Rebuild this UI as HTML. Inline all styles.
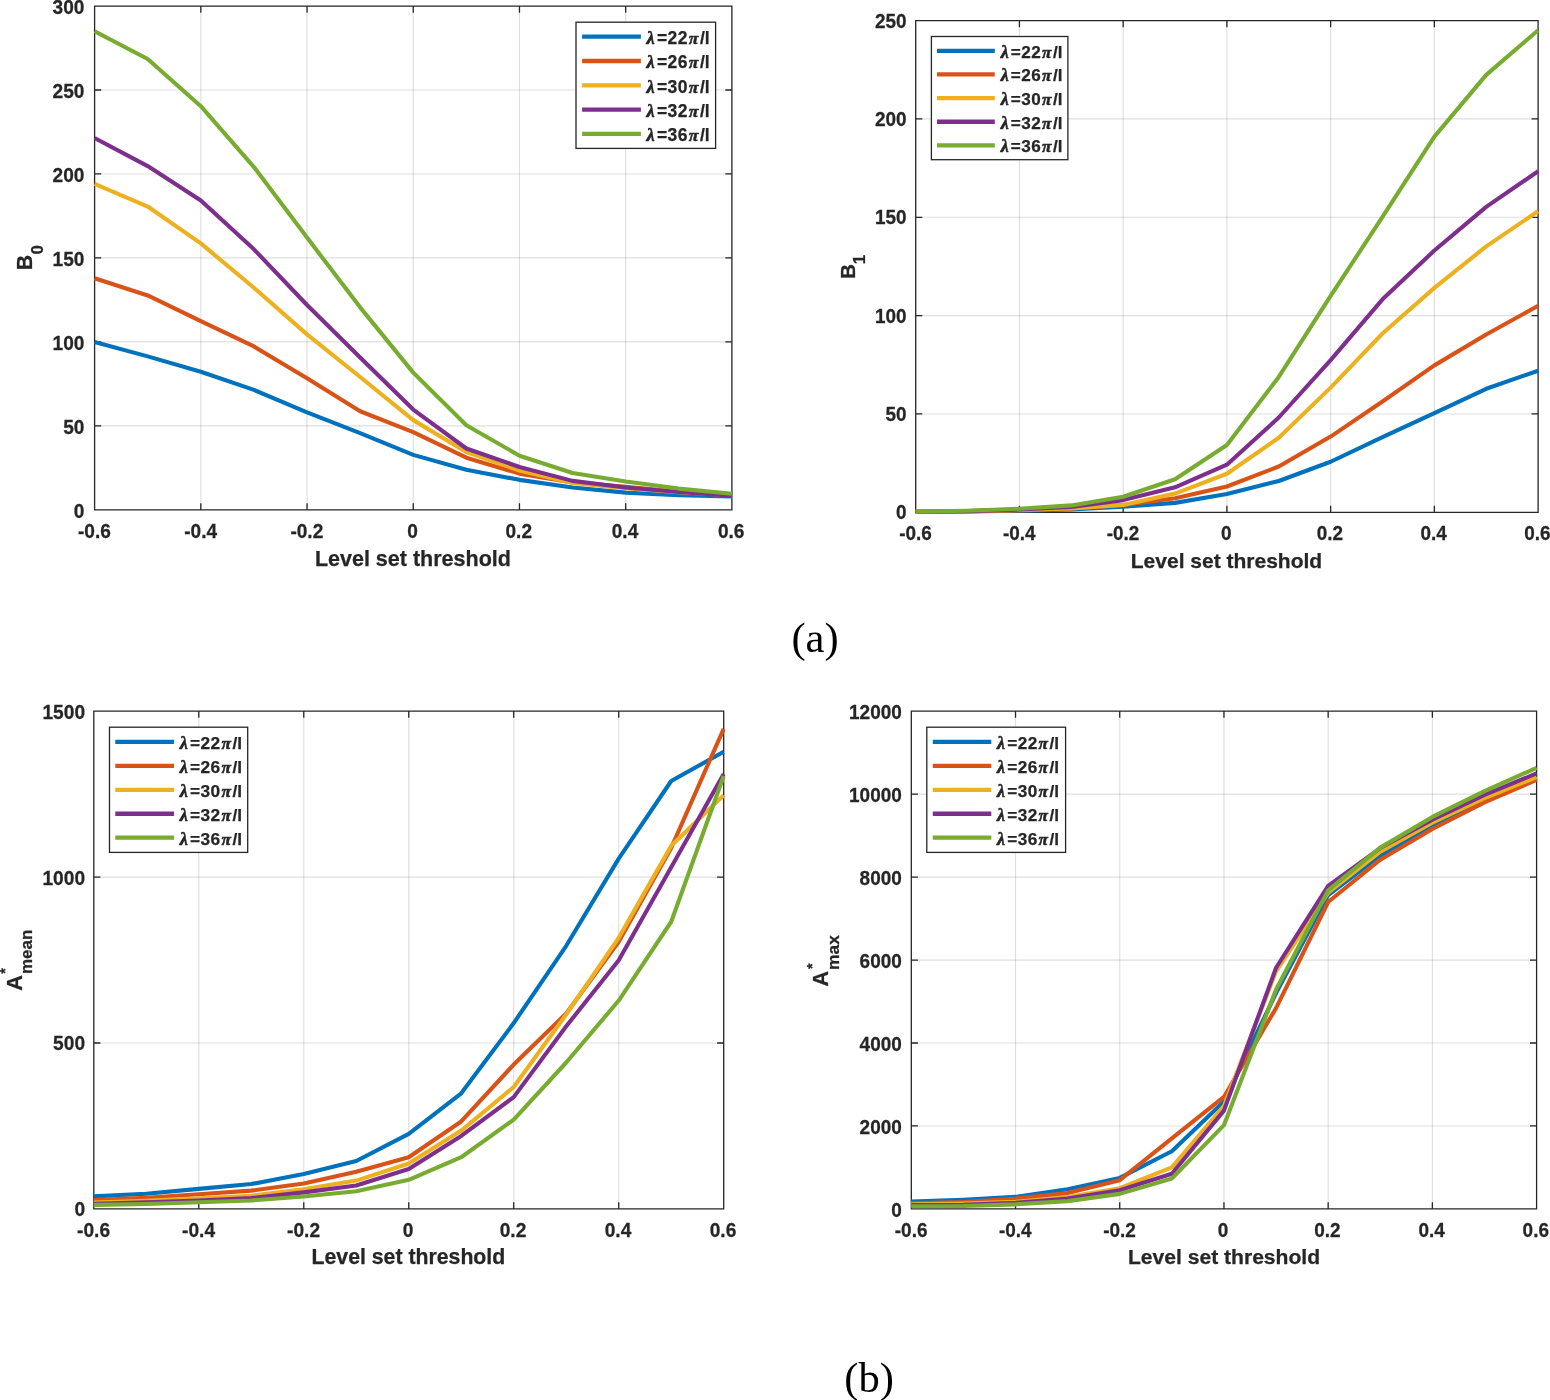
<!DOCTYPE html>
<html lang="en"><head><meta charset="utf-8"><title>Level set threshold figure</title>
<style>
html,body{margin:0;padding:0;background:#fff}
body{width:1550px;height:1400px;overflow:hidden}
svg{display:block}
text{font-family:"Liberation Sans",sans-serif;font-weight:bold;fill:#262626;stroke:#262626;stroke-width:0.25px}
.t{font-size:19.4px}
.l{font-size:21.3px}
.g{font-size:17.1px}
.s{font-family:"Liberation Serif",serif;font-weight:normal;fill:#000;stroke:none;font-size:42.6px}
.pi{font-family:"Liberation Serif",serif;font-weight:bold;font-style:italic;stroke-width:0.55px}
</style></head><body>
<svg width="1550" height="1400" viewBox="0 0 1550 1400">
<rect width="1550" height="1400" fill="#fff"/>
<g id="plot1">
<path d="M200.82 6.05V509.8M307.03 6.05V509.8M413.25 6.05V509.8M519.47 6.05V509.8M625.68 6.05V509.8" stroke="#262626" stroke-opacity="0.15" stroke-width="1.15" fill="none"/>
<path d="M94.6 425.84H731.9M94.6 341.88H731.9M94.6 257.93H731.9M94.6 173.97H731.9M94.6 90.01H731.9" stroke="#262626" stroke-opacity="0.15" stroke-width="1.15" fill="none"/>
<path d="M94.6 6.05H731.9V509.8H94.6ZM200.82 509.8v-6.6M200.82 6.05v6.6M307.03 509.8v-6.6M307.03 6.05v6.6M413.25 509.8v-6.6M413.25 6.05v6.6M519.47 509.8v-6.6M519.47 6.05v6.6M625.68 509.8v-6.6M625.68 6.05v6.6M94.6 425.84h6.6M731.9 425.84h-6.6M94.6 341.88h6.6M731.9 341.88h-6.6M94.6 257.93h6.6M731.9 257.93h-6.6M94.6 173.97h6.6M731.9 173.97h-6.6M94.6 90.01h6.6M731.9 90.01h-6.6" stroke="#262626" stroke-width="1.3" fill="none"/>
<clipPath id="c0"><rect x="94" y="3.05" width="640.3" height="509.75"/></clipPath>
<g clip-path="url(#c0)" fill="none" stroke-width="4.1" stroke-linejoin="round">
<polyline stroke="#0072BD" points="94.6,341.93 147.71,356.36 200.82,371.81 253.93,389.92 307.03,412.41 360.14,433.05 413.25,454.86 466.36,469.8 519.47,479.86 572.57,487.58 625.68,492.62 678.79,495.31 731.9,496.48"/>
<polyline stroke="#D95319" points="94.6,278.18 147.71,295.45 200.82,321.13 253.93,346.47 307.03,378.17 360.14,411.23 413.25,432.21 466.36,457.71 519.47,473.65 572.57,482.38 625.68,486.75 678.79,491.78 731.9,495.14"/>
<polyline stroke="#EDB120" points="94.6,183.87 147.71,206.53 200.82,243.43 253.93,287.73 307.03,334.38 360.14,377.01 413.25,420.13 466.36,452 519.47,470.47 572.57,483.05 625.68,488.26 678.79,492.12 731.9,495.14"/>
<polyline stroke="#7E2F8E" points="94.6,138.05 147.71,166.07 200.82,200.48 253.93,249.31 307.03,305.03 360.14,357.53 413.25,409.55 466.36,448.49 519.47,466.95 572.57,480.87 625.68,487.58 678.79,491.95 731.9,495.64"/>
<polyline stroke="#77AC30" points="94.6,31.34 147.71,59.03 200.82,106.18 253.93,167.08 307.03,237.56 360.14,307.36 413.25,372.65 466.36,425.17 519.47,455.7 572.57,472.99 625.68,481.54 678.79,488.59 731.9,493.8"/>
</g>
<text class="t" style="font-size:19.1px" text-anchor="middle" transform="translate(94.4 537.6) scale(1 1.065)">-0.6</text>
<text class="t" style="font-size:19.1px" text-anchor="middle" transform="translate(200.62 537.6) scale(1 1.065)">-0.4</text>
<text class="t" style="font-size:19.1px" text-anchor="middle" transform="translate(306.83 537.6) scale(1 1.065)">-0.2</text>
<text class="t" style="font-size:19.1px" text-anchor="middle" transform="translate(412.55 537.6) scale(1 1.065)">0</text>
<text class="t" style="font-size:19.1px" text-anchor="middle" transform="translate(518.77 537.6) scale(1 1.065)">0.2</text>
<text class="t" style="font-size:19.1px" text-anchor="middle" transform="translate(624.98 537.6) scale(1 1.065)">0.4</text>
<text class="t" style="font-size:19.1px" text-anchor="middle" transform="translate(731.2 537.6) scale(1 1.065)">0.6</text>
<text class="t" style="font-size:19.1px" text-anchor="end" transform="translate(84.4 517.7) scale(1 1.065)">0</text>
<text class="t" style="font-size:19.1px" text-anchor="end" transform="translate(84.4 433.74) scale(1 1.065)">50</text>
<text class="t" style="font-size:19.1px" text-anchor="end" transform="translate(84.4 349.78) scale(1 1.065)">100</text>
<text class="t" style="font-size:19.1px" text-anchor="end" transform="translate(84.4 265.82) scale(1 1.065)">150</text>
<text class="t" style="font-size:19.1px" text-anchor="end" transform="translate(84.4 181.87) scale(1 1.065)">200</text>
<text class="t" style="font-size:19.1px" text-anchor="end" transform="translate(84.4 97.91) scale(1 1.065)">250</text>
<text class="t" style="font-size:19.1px" text-anchor="end" transform="translate(84.4 13.95) scale(1 1.065)">300</text>
<text class="l" style="font-size:21.5px" text-anchor="middle" x="412.9" y="566">Level set threshold</text>
<text class="l" style="font-size:21.3px" transform="translate(32.2 270.3) rotate(-90)">B<tspan style="font-size:16.9px" x="15.7" y="10.7">0</tspan></text>
<rect x="576" y="22.2" width="139.6" height="126.2" fill="#fff" stroke="#262626" stroke-width="1.3"/>
<path d="M582.1 36.7H640.9" stroke="#0072BD" stroke-width="4.3"/><text class="g" style="font-size:17.5px" x="646.6" y="43.9"><tspan class="pi" style="font-size:18.55px">λ</tspan><tspan dx="2.1" style="letter-spacing:0.4px">=22</tspan><tspan class="pi" dx="0.9">π</tspan><tspan dx="1.6">/l</tspan></text>
<path d="M582.1 61H640.9" stroke="#D95319" stroke-width="4.3"/><text class="g" style="font-size:17.5px" x="646.6" y="68.2"><tspan class="pi" style="font-size:18.55px">λ</tspan><tspan dx="2.1" style="letter-spacing:0.4px">=26</tspan><tspan class="pi" dx="0.9">π</tspan><tspan dx="1.6">/l</tspan></text>
<path d="M582.1 85.3H640.9" stroke="#EDB120" stroke-width="4.3"/><text class="g" style="font-size:17.5px" x="646.6" y="92.5"><tspan class="pi" style="font-size:18.55px">λ</tspan><tspan dx="2.1" style="letter-spacing:0.4px">=30</tspan><tspan class="pi" dx="0.9">π</tspan><tspan dx="1.6">/l</tspan></text>
<path d="M582.1 109.6H640.9" stroke="#7E2F8E" stroke-width="4.3"/><text class="g" style="font-size:17.5px" x="646.6" y="116.8"><tspan class="pi" style="font-size:18.55px">λ</tspan><tspan dx="2.1" style="letter-spacing:0.4px">=32</tspan><tspan class="pi" dx="0.9">π</tspan><tspan dx="1.6">/l</tspan></text>
<path d="M582.1 133.9H640.9" stroke="#77AC30" stroke-width="4.3"/><text class="g" style="font-size:17.5px" x="646.6" y="141.1"><tspan class="pi" style="font-size:18.55px">λ</tspan><tspan dx="2.1" style="letter-spacing:0.4px">=36</tspan><tspan class="pi" dx="0.9">π</tspan><tspan dx="1.6">/l</tspan></text>
</g>
<g id="plot2">
<path d="M1019.43 20.6V512.3M1123.17 20.6V512.3M1226.9 20.6V512.3M1330.63 20.6V512.3M1434.37 20.6V512.3" stroke="#262626" stroke-opacity="0.15" stroke-width="1.15" fill="none"/>
<path d="M915.7 413.96H1538.1M915.7 315.62H1538.1M915.7 217.28H1538.1M915.7 118.94H1538.1" stroke="#262626" stroke-opacity="0.15" stroke-width="1.15" fill="none"/>
<path d="M915.7 20.6H1538.1V512.3H915.7ZM1019.43 512.3v-6.6M1019.43 20.6v6.6M1123.17 512.3v-6.6M1123.17 20.6v6.6M1226.9 512.3v-6.6M1226.9 20.6v6.6M1330.63 512.3v-6.6M1330.63 20.6v6.6M1434.37 512.3v-6.6M1434.37 20.6v6.6M915.7 413.96h6.6M1538.1 413.96h-6.6M915.7 315.62h6.6M1538.1 315.62h-6.6M915.7 217.28h6.6M1538.1 217.28h-6.6M915.7 118.94h6.6M1538.1 118.94h-6.6" stroke="#262626" stroke-width="1.3" fill="none"/>
<clipPath id="c1"><rect x="915.1" y="17.6" width="625.4" height="497.7"/></clipPath>
<g clip-path="url(#c1)" fill="none" stroke-width="4.1" stroke-linejoin="round">
<polyline stroke="#0072BD" points="915.7,511.91 967.57,511.51 1019.43,510.73 1071.3,509.35 1123.17,506.79 1175.03,502.86 1226.9,494.01 1278.77,481.03 1330.63,461.75 1382.5,437.17 1434.37,413.17 1486.23,388.78 1538.1,370.69"/>
<polyline stroke="#D95319" points="915.7,511.71 967.57,511.32 1019.43,510.33 1071.3,508.56 1123.17,505.02 1175.03,498.34 1226.9,486.53 1278.77,466.47 1330.63,436.58 1382.5,401.57 1434.37,365.38 1486.23,334.5 1538.1,305.79"/>
<polyline stroke="#EDB120" points="915.7,511.51 967.57,511.12 1019.43,509.94 1071.3,508.37 1123.17,505.02 1175.03,493.62 1226.9,473.75 1278.77,437.76 1330.63,387.6 1382.5,333.52 1434.37,287.89 1486.23,246.39 1538.1,211.18"/>
<polyline stroke="#7E2F8E" points="915.7,511.71 967.57,511.12 1019.43,509.55 1071.3,506.99 1123.17,500.11 1175.03,487.32 1226.9,464.7 1278.77,417.5 1330.63,360.07 1382.5,299.3 1434.37,250.52 1486.23,206.86 1538.1,171.26"/>
<polyline stroke="#77AC30" points="915.7,511.61 967.57,510.73 1019.43,508.76 1071.3,505.42 1123.17,496.76 1175.03,479.26 1226.9,445.04 1278.77,376.98 1330.63,295.95 1382.5,216.89 1434.37,136.64 1486.23,74.88 1538.1,30.24"/>
</g>
<text class="t" style="font-size:18.95px" text-anchor="middle" transform="translate(915.5 539.6) scale(1 1.065)">-0.6</text>
<text class="t" style="font-size:18.95px" text-anchor="middle" transform="translate(1019.23 539.6) scale(1 1.065)">-0.4</text>
<text class="t" style="font-size:18.95px" text-anchor="middle" transform="translate(1122.97 539.6) scale(1 1.065)">-0.2</text>
<text class="t" style="font-size:18.95px" text-anchor="middle" transform="translate(1226.2 539.6) scale(1 1.065)">0</text>
<text class="t" style="font-size:18.95px" text-anchor="middle" transform="translate(1329.93 539.6) scale(1 1.065)">0.2</text>
<text class="t" style="font-size:18.95px" text-anchor="middle" transform="translate(1433.67 539.6) scale(1 1.065)">0.4</text>
<text class="t" style="font-size:18.95px" text-anchor="middle" transform="translate(1537.4 539.6) scale(1 1.065)">0.6</text>
<text class="t" style="font-size:18.95px" text-anchor="end" transform="translate(906.5 519.2) scale(1 1.065)">0</text>
<text class="t" style="font-size:18.95px" text-anchor="end" transform="translate(906.5 420.86) scale(1 1.065)">50</text>
<text class="t" style="font-size:18.95px" text-anchor="end" transform="translate(906.5 322.52) scale(1 1.065)">100</text>
<text class="t" style="font-size:18.95px" text-anchor="end" transform="translate(906.5 224.18) scale(1 1.065)">150</text>
<text class="t" style="font-size:18.95px" text-anchor="end" transform="translate(906.5 125.84) scale(1 1.065)">200</text>
<text class="t" style="font-size:18.95px" text-anchor="end" transform="translate(906.5 27.5) scale(1 1.065)">250</text>
<text class="l" style="font-size:21.0px" text-anchor="middle" x="1226.5" y="567.5">Level set threshold</text>
<text class="l" style="font-size:20.8px" transform="translate(855.0 279.0) rotate(-90)">B<tspan style="font-size:16.9px" x="14.7" y="10.2">1</tspan></text>
<rect x="931.4" y="36.5" width="136.5" height="123.2" fill="#fff" stroke="#262626" stroke-width="1.3"/>
<path d="M937 50.8H994.8" stroke="#0072BD" stroke-width="4.3"/><text class="g" style="font-size:17.1px" x="1000.7" y="57.7"><tspan class="pi" style="font-size:18.13px">λ</tspan><tspan dx="2.1" style="letter-spacing:0.4px">=22</tspan><tspan class="pi" dx="0.9">π</tspan><tspan dx="1.6">/l</tspan></text>
<path d="M937 74.45H994.8" stroke="#D95319" stroke-width="4.3"/><text class="g" style="font-size:17.1px" x="1000.7" y="81.35"><tspan class="pi" style="font-size:18.13px">λ</tspan><tspan dx="2.1" style="letter-spacing:0.4px">=26</tspan><tspan class="pi" dx="0.9">π</tspan><tspan dx="1.6">/l</tspan></text>
<path d="M937 98.1H994.8" stroke="#EDB120" stroke-width="4.3"/><text class="g" style="font-size:17.1px" x="1000.7" y="105"><tspan class="pi" style="font-size:18.13px">λ</tspan><tspan dx="2.1" style="letter-spacing:0.4px">=30</tspan><tspan class="pi" dx="0.9">π</tspan><tspan dx="1.6">/l</tspan></text>
<path d="M937 121.75H994.8" stroke="#7E2F8E" stroke-width="4.3"/><text class="g" style="font-size:17.1px" x="1000.7" y="128.65"><tspan class="pi" style="font-size:18.13px">λ</tspan><tspan dx="2.1" style="letter-spacing:0.4px">=32</tspan><tspan class="pi" dx="0.9">π</tspan><tspan dx="1.6">/l</tspan></text>
<path d="M937 145.4H994.8" stroke="#77AC30" stroke-width="4.3"/><text class="g" style="font-size:17.1px" x="1000.7" y="152.3"><tspan class="pi" style="font-size:18.13px">λ</tspan><tspan dx="2.1" style="letter-spacing:0.4px">=36</tspan><tspan class="pi" dx="0.9">π</tspan><tspan dx="1.6">/l</tspan></text>
</g>
<g id="plot3">
<path d="M198.78 711.2V1208.9M303.77 711.2V1208.9M408.75 711.2V1208.9M513.73 711.2V1208.9M618.72 711.2V1208.9" stroke="#262626" stroke-opacity="0.15" stroke-width="1.15" fill="none"/>
<path d="M93.8 1043H723.7M93.8 877.1H723.7" stroke="#262626" stroke-opacity="0.15" stroke-width="1.15" fill="none"/>
<path d="M93.8 711.2H723.7V1208.9H93.8ZM198.78 1208.9v-6.6M198.78 711.2v6.6M303.77 1208.9v-6.6M303.77 711.2v6.6M408.75 1208.9v-6.6M408.75 711.2v6.6M513.73 1208.9v-6.6M513.73 711.2v6.6M618.72 1208.9v-6.6M618.72 711.2v6.6M93.8 1043h6.6M723.7 1043h-6.6M93.8 877.1h6.6M723.7 877.1h-6.6" stroke="#262626" stroke-width="1.3" fill="none"/>
<clipPath id="c2"><rect x="93.2" y="708.2" width="632.9" height="503.7"/></clipPath>
<g clip-path="url(#c2)" fill="none" stroke-width="4.1" stroke-linejoin="round">
<polyline stroke="#0072BD" points="93.8,1196.36 146.29,1193.8 198.78,1188.86 251.28,1184.08 303.77,1174.03 356.26,1161.02 408.75,1133.91 461.24,1093.33 513.73,1023.09 566.23,945.78 618.72,858.59 671.21,780.98 723.7,751.81"/>
<polyline stroke="#D95319" points="93.8,1200.14 146.29,1197.88 198.78,1194.3 251.28,1190.65 303.77,1183.42 356.26,1171.67 408.75,1157.21 461.24,1121.44 513.73,1064.57 566.23,1013.47 618.72,941.8 671.21,847.9 723.7,728.85"/>
<polyline stroke="#EDB120" points="93.8,1202.66 146.29,1200.7 198.78,1198.38 251.28,1195.69 303.77,1189.26 356.26,1180.6 408.75,1163.44 461.24,1130.6 513.73,1086.96 566.23,1014.53 618.72,937.82 671.21,845.68 723.7,795.34"/>
<polyline stroke="#7E2F8E" points="93.8,1203.76 146.29,1202.3 198.78,1200.51 251.28,1198.02 303.77,1192.34 356.26,1185.51 408.75,1169.08 461.24,1135.94 513.73,1097.15 566.23,1026.28 618.72,960.32 671.21,867.15 723.7,773.91"/>
<polyline stroke="#77AC30" points="93.8,1204.85 146.29,1203.99 198.78,1202.3 251.28,1200.51 303.77,1196.46 356.26,1191.25 408.75,1179.87 461.24,1157.24 513.73,1119.55 566.23,1062.51 618.72,1000.53 671.21,921.76 723.7,776.03"/>
</g>
<text class="t" style="font-size:19.17px" text-anchor="middle" transform="translate(93.6 1236.7) scale(1 1.065)">-0.6</text>
<text class="t" style="font-size:19.17px" text-anchor="middle" transform="translate(198.58 1236.7) scale(1 1.065)">-0.4</text>
<text class="t" style="font-size:19.17px" text-anchor="middle" transform="translate(303.57 1236.7) scale(1 1.065)">-0.2</text>
<text class="t" style="font-size:19.17px" text-anchor="middle" transform="translate(408.05 1236.7) scale(1 1.065)">0</text>
<text class="t" style="font-size:19.17px" text-anchor="middle" transform="translate(513.03 1236.7) scale(1 1.065)">0.2</text>
<text class="t" style="font-size:19.17px" text-anchor="middle" transform="translate(618.02 1236.7) scale(1 1.065)">0.4</text>
<text class="t" style="font-size:19.17px" text-anchor="middle" transform="translate(723 1236.7) scale(1 1.065)">0.6</text>
<text class="t" style="font-size:19.17px" text-anchor="end" transform="translate(85.1 1216.35) scale(1 1.065)">0</text>
<text class="t" style="font-size:19.17px" text-anchor="end" transform="translate(85.1 1050.45) scale(1 1.065)">500</text>
<text class="t" style="font-size:19.17px" text-anchor="end" transform="translate(85.1 884.55) scale(1 1.065)">1000</text>
<text class="t" style="font-size:19.17px" text-anchor="end" transform="translate(85.1 718.65) scale(1 1.065)">1500</text>
<text class="l" style="font-size:21.25px" text-anchor="middle" x="408.4" y="1264.3">Level set threshold</text>
<text class="l" style="font-size:21.75px" transform="translate(21.8 990.7) rotate(-90)">A<tspan style="font-size:14.11px" x="17.0" y="-11.6">*</tspan><tspan style="font-size:17.0px" x="16.6" y="10.5">mean</tspan></text>
<rect x="109.5" y="727.2" width="138.2" height="125.2" fill="#fff" stroke="#262626" stroke-width="1.3"/>
<path d="M115.3 741.9H174" stroke="#0072BD" stroke-width="4.3"/><text class="g" style="font-size:17.3px" x="179.8" y="748.9"><tspan class="pi" style="font-size:18.34px">λ</tspan><tspan dx="2.1" style="letter-spacing:0.4px">=22</tspan><tspan class="pi" dx="0.9">π</tspan><tspan dx="1.6">/l</tspan></text>
<path d="M115.3 765.85H174" stroke="#D95319" stroke-width="4.3"/><text class="g" style="font-size:17.3px" x="179.8" y="772.85"><tspan class="pi" style="font-size:18.34px">λ</tspan><tspan dx="2.1" style="letter-spacing:0.4px">=26</tspan><tspan class="pi" dx="0.9">π</tspan><tspan dx="1.6">/l</tspan></text>
<path d="M115.3 789.8H174" stroke="#EDB120" stroke-width="4.3"/><text class="g" style="font-size:17.3px" x="179.8" y="796.8"><tspan class="pi" style="font-size:18.34px">λ</tspan><tspan dx="2.1" style="letter-spacing:0.4px">=30</tspan><tspan class="pi" dx="0.9">π</tspan><tspan dx="1.6">/l</tspan></text>
<path d="M115.3 813.75H174" stroke="#7E2F8E" stroke-width="4.3"/><text class="g" style="font-size:17.3px" x="179.8" y="820.75"><tspan class="pi" style="font-size:18.34px">λ</tspan><tspan dx="2.1" style="letter-spacing:0.4px">=32</tspan><tspan class="pi" dx="0.9">π</tspan><tspan dx="1.6">/l</tspan></text>
<path d="M115.3 837.7H174" stroke="#77AC30" stroke-width="4.3"/><text class="g" style="font-size:17.3px" x="179.8" y="844.7"><tspan class="pi" style="font-size:18.34px">λ</tspan><tspan dx="2.1" style="letter-spacing:0.4px">=36</tspan><tspan class="pi" dx="0.9">π</tspan><tspan dx="1.6">/l</tspan></text>
</g>
<g id="plot4">
<path d="M1015.52 711.2V1208.9M1119.73 711.2V1208.9M1223.95 711.2V1208.9M1328.17 711.2V1208.9M1432.38 711.2V1208.9" stroke="#262626" stroke-opacity="0.15" stroke-width="1.15" fill="none"/>
<path d="M911.3 1125.95H1536.6M911.3 1043H1536.6M911.3 960.05H1536.6M911.3 877.1H1536.6M911.3 794.15H1536.6" stroke="#262626" stroke-opacity="0.15" stroke-width="1.15" fill="none"/>
<path d="M911.3 711.2H1536.6V1208.9H911.3ZM1015.52 1208.9v-6.6M1015.52 711.2v6.6M1119.73 1208.9v-6.6M1119.73 711.2v6.6M1223.95 1208.9v-6.6M1223.95 711.2v6.6M1328.17 1208.9v-6.6M1328.17 711.2v6.6M1432.38 1208.9v-6.6M1432.38 711.2v6.6M911.3 1125.95h6.6M1536.6 1125.95h-6.6M911.3 1043h6.6M1536.6 1043h-6.6M911.3 960.05h6.6M1536.6 960.05h-6.6M911.3 877.1h6.6M1536.6 877.1h-6.6M911.3 794.15h6.6M1536.6 794.15h-6.6" stroke="#262626" stroke-width="1.3" fill="none"/>
<clipPath id="c3"><rect x="910.7" y="708.2" width="628.3" height="503.7"/></clipPath>
<g clip-path="url(#c3)" fill="none" stroke-width="4.1" stroke-linejoin="round">
<polyline stroke="#0072BD" points="911.3,1201.64 963.41,1199.69 1015.52,1196.91 1067.62,1189.24 1119.73,1177.88 1171.84,1151.21 1223.95,1101.48 1276.06,993.11 1328.17,895.1 1380.27,855.62 1432.38,825.84 1484.49,800.04 1536.6,778.27"/>
<polyline stroke="#D95319" points="911.3,1203.34 963.41,1202.02 1015.52,1198.7 1067.62,1193.1 1119.73,1180.2 1171.84,1138.43 1223.95,1096.92 1276.06,1008.12 1328.17,901.99 1380.27,859.68 1432.38,829.03 1484.49,802.45 1536.6,779.88"/>
<polyline stroke="#EDB120" points="911.3,1204.42 963.41,1203.59 1015.52,1201.81 1067.62,1197 1119.73,1188.2 1171.84,1167.38 1223.95,1106.04 1276.06,971.25 1328.17,892.69 1380.27,851.63 1432.38,822.64 1484.49,798.09 1536.6,777.15"/>
<polyline stroke="#7E2F8E" points="911.3,1205.17 963.41,1204.92 1015.52,1202.8 1067.62,1198.53 1119.73,1190.28 1171.84,1173.77 1223.95,1110.6 1276.06,967.76 1328.17,885.81 1380.27,848.07 1432.38,819.74 1484.49,794.86 1536.6,773.45"/>
<polyline stroke="#77AC30" points="911.3,1206.29 963.41,1206.04 1015.52,1204.34 1067.62,1201.1 1119.73,1193.89 1171.84,1178.46 1223.95,1125.16 1276.06,989.54 1328.17,890.37 1380.27,847.61 1432.38,816.96 1484.49,791.16 1536.6,767.77"/>
</g>
<text class="t" style="font-size:19.0px" text-anchor="middle" transform="translate(911.1 1236.7) scale(1 1.065)">-0.6</text>
<text class="t" style="font-size:19.0px" text-anchor="middle" transform="translate(1015.32 1236.7) scale(1 1.065)">-0.4</text>
<text class="t" style="font-size:19.0px" text-anchor="middle" transform="translate(1119.53 1236.7) scale(1 1.065)">-0.2</text>
<text class="t" style="font-size:19.0px" text-anchor="middle" transform="translate(1223.15 1236.7) scale(1 1.065)">0</text>
<text class="t" style="font-size:19.0px" text-anchor="middle" transform="translate(1327.37 1236.7) scale(1 1.065)">0.2</text>
<text class="t" style="font-size:19.0px" text-anchor="middle" transform="translate(1431.58 1236.7) scale(1 1.065)">0.4</text>
<text class="t" style="font-size:19.0px" text-anchor="middle" transform="translate(1535.8 1236.7) scale(1 1.065)">0.6</text>
<text class="t" style="font-size:19.0px" text-anchor="end" transform="translate(901.8 1216.6) scale(1 1.065)">0</text>
<text class="t" style="font-size:19.0px" text-anchor="end" transform="translate(901.8 1133.65) scale(1 1.065)">2000</text>
<text class="t" style="font-size:19.0px" text-anchor="end" transform="translate(901.8 1050.7) scale(1 1.065)">4000</text>
<text class="t" style="font-size:19.0px" text-anchor="end" transform="translate(901.8 967.75) scale(1 1.065)">6000</text>
<text class="t" style="font-size:19.0px" text-anchor="end" transform="translate(901.8 884.8) scale(1 1.065)">8000</text>
<text class="t" style="font-size:19.0px" text-anchor="end" transform="translate(901.8 801.85) scale(1 1.065)">10000</text>
<text class="t" style="font-size:19.0px" text-anchor="end" transform="translate(901.8 718.9) scale(1 1.065)">12000</text>
<text class="l" style="font-size:21.1px" text-anchor="middle" x="1224" y="1264.3">Level set threshold</text>
<text class="l" style="font-size:21.6px" transform="translate(828.1 986.4) rotate(-90)">A<tspan style="font-size:14.44px" x="17.4" y="-11.6">*</tspan><tspan style="font-size:17.4px" x="16.4" y="10.7">max</tspan></text>
<rect x="926.8" y="727.2" width="138.8" height="125.2" fill="#fff" stroke="#262626" stroke-width="1.3"/>
<path d="M932.8 741.9H991.3" stroke="#0072BD" stroke-width="4.3"/><text class="g" style="font-size:17.17px" x="997.1" y="748.9"><tspan class="pi" style="font-size:18.2px">λ</tspan><tspan dx="2.1" style="letter-spacing:0.4px">=22</tspan><tspan class="pi" dx="0.9">π</tspan><tspan dx="1.6">/l</tspan></text>
<path d="M932.8 765.85H991.3" stroke="#D95319" stroke-width="4.3"/><text class="g" style="font-size:17.17px" x="997.1" y="772.85"><tspan class="pi" style="font-size:18.2px">λ</tspan><tspan dx="2.1" style="letter-spacing:0.4px">=26</tspan><tspan class="pi" dx="0.9">π</tspan><tspan dx="1.6">/l</tspan></text>
<path d="M932.8 789.8H991.3" stroke="#EDB120" stroke-width="4.3"/><text class="g" style="font-size:17.17px" x="997.1" y="796.8"><tspan class="pi" style="font-size:18.2px">λ</tspan><tspan dx="2.1" style="letter-spacing:0.4px">=30</tspan><tspan class="pi" dx="0.9">π</tspan><tspan dx="1.6">/l</tspan></text>
<path d="M932.8 813.75H991.3" stroke="#7E2F8E" stroke-width="4.3"/><text class="g" style="font-size:17.17px" x="997.1" y="820.75"><tspan class="pi" style="font-size:18.2px">λ</tspan><tspan dx="2.1" style="letter-spacing:0.4px">=32</tspan><tspan class="pi" dx="0.9">π</tspan><tspan dx="1.6">/l</tspan></text>
<path d="M932.8 837.7H991.3" stroke="#77AC30" stroke-width="4.3"/><text class="g" style="font-size:17.17px" x="997.1" y="844.7"><tspan class="pi" style="font-size:18.2px">λ</tspan><tspan dx="2.1" style="letter-spacing:0.4px">=36</tspan><tspan class="pi" dx="0.9">π</tspan><tspan dx="1.6">/l</tspan></text>
</g>
<text class="s" x="791.4" y="651.5">(a)</text>
<text class="s" x="844.3" y="1392.2">(b)</text>
</svg>
</body></html>
